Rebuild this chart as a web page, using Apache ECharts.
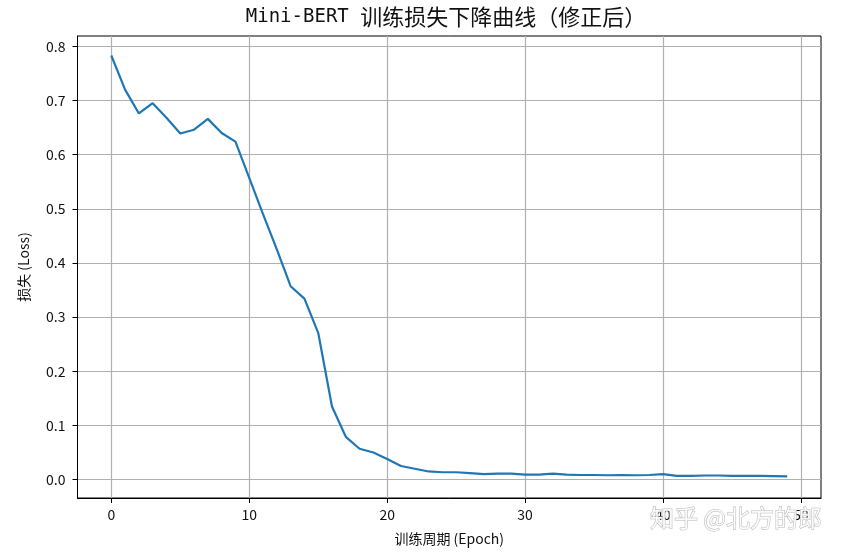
<!DOCTYPE html>
<html>
<head>
<meta charset="utf-8">
<script src="https://cdn.jsdelivr.net/npm/echarts@6/dist/echarts.min.js"></script>
<style>
html,body{margin:0;padding:0;background:#fff;}
#chart{width:851px;height:552px;}
</style>
</head>
<body>
<div id="chart"></div>
<script>
const epochs = Array.from({length: 50}, (_, i) => i);
const lossValues = [
  0.783, 0.720, 0.676, 0.695, 0.668, 0.639, 0.646, 0.666, 0.640, 0.624,
  0.557, 0.490, 0.425, 0.357, 0.334, 0.271, 0.135, 0.079, 0.057, 0.050,
  0.038, 0.025, 0.020, 0.015, 0.0135, 0.0135, 0.012, 0.010, 0.011, 0.011,
  0.009, 0.009, 0.011, 0.009, 0.0085, 0.0085, 0.008, 0.0085, 0.008, 0.0085,
  0.010, 0.007, 0.007, 0.0075, 0.0075, 0.007, 0.007, 0.007, 0.0065, 0.006
];
const xTicks = [0, 10, 20, 30, 40, 50];
const yTicks = [0.0, 0.1, 0.2, 0.3, 0.4, 0.5, 0.6, 0.7, 0.8];
const titleLatin = 'Mini-BERT ';
const titleCJK = '训练损失下降曲线（修正后）';
const xName = '训练周期 (Epoch)';
const yName = '损失 (Loss)';
const watermark = '知乎 @北方的郎';

const FONT = '"Noto Sans CJK SC", "Noto Sans", sans-serif';
const chart = echarts.init(document.getElementById('chart'), null, {renderer: 'canvas'});
const seriesData = epochs.map((e, i) => [e, lossValues[i]]);

chart.setOption({
  animation: false,
  backgroundColor: '#fff',
  grid: {left: 77.5, right: 30, top: 36, bottom: 54, show: true, borderColor: '#000', borderWidth: 1, backgroundColor: 'transparent'},
  xAxis: {
    type: 'value', min: -2.45, max: 51.45,
    axisLine: {show: true, onZero: false, lineStyle: {color: '#000', width: 1}},
    axisTick: {show: true, length: 5, customValues: xTicks, lineStyle: {color: '#000', width: 1}},
    axisLabel: {customValues: xTicks, margin: 10, color: '#111', fontSize: 14, fontFamily: FONT},
    splitLine: {show: true, lineStyle: {color: '#b0b0b0', width: 1.2}},
    name: xName, nameLocation: 'middle', nameGap: 34,
    nameTextStyle: {color: '#111', fontSize: 14, fontFamily: FONT}
  },
  yAxis: {
    type: 'value', min: -0.034, max: 0.819,
    axisLine: {show: true, onZero: false, lineStyle: {color: '#000', width: 1}},
    axisTick: {show: true, length: 5, customValues: yTicks, lineStyle: {color: '#000', width: 1}},
    axisLabel: {customValues: yTicks, margin: 12, color: '#111', fontSize: 14, fontFamily: FONT,
      formatter: v => v.toFixed(1)},
    splitLine: {show: true, lineStyle: {color: '#b0b0b0', width: 1.2}},
    name: yName, nameLocation: 'middle', nameGap: 47, nameRotate: 90,
    nameTextStyle: {color: '#111', fontSize: 14, fontFamily: FONT}
  },
  series: [{
    type: 'line', data: seriesData, showSymbol: false, symbol: 'none',
    lineStyle: {color: '#1f77b4', width: 2.2}, z: 5
  }],
  graphic: [
    {
      type: 'text', x: 446, y: 17, z: 10,
      style: {
        text: '{a|' + titleLatin + '}{b|' + titleCJK + '}',
        align: 'center', verticalAlign: 'middle',
        rich: {
          a: {fontFamily: '"DejaVu Sans Mono", "Liberation Mono", monospace', fontSize: 19, fill: '#111'},
          b: {fontFamily: FONT, fontSize: 22, fill: '#111'}
        }
      }
    },
    {
      type: 'text', x: 736, y: 518, z: 100,
      style: {
        text: watermark, align: 'center', verticalAlign: 'middle',
        fontFamily: FONT, fontSize: 24,
        fill: 'rgba(255,255,255,0.85)', stroke: '#b8b8b8', lineWidth: 1
      }
    }
  ]
});
</script>
</body>
</html>
